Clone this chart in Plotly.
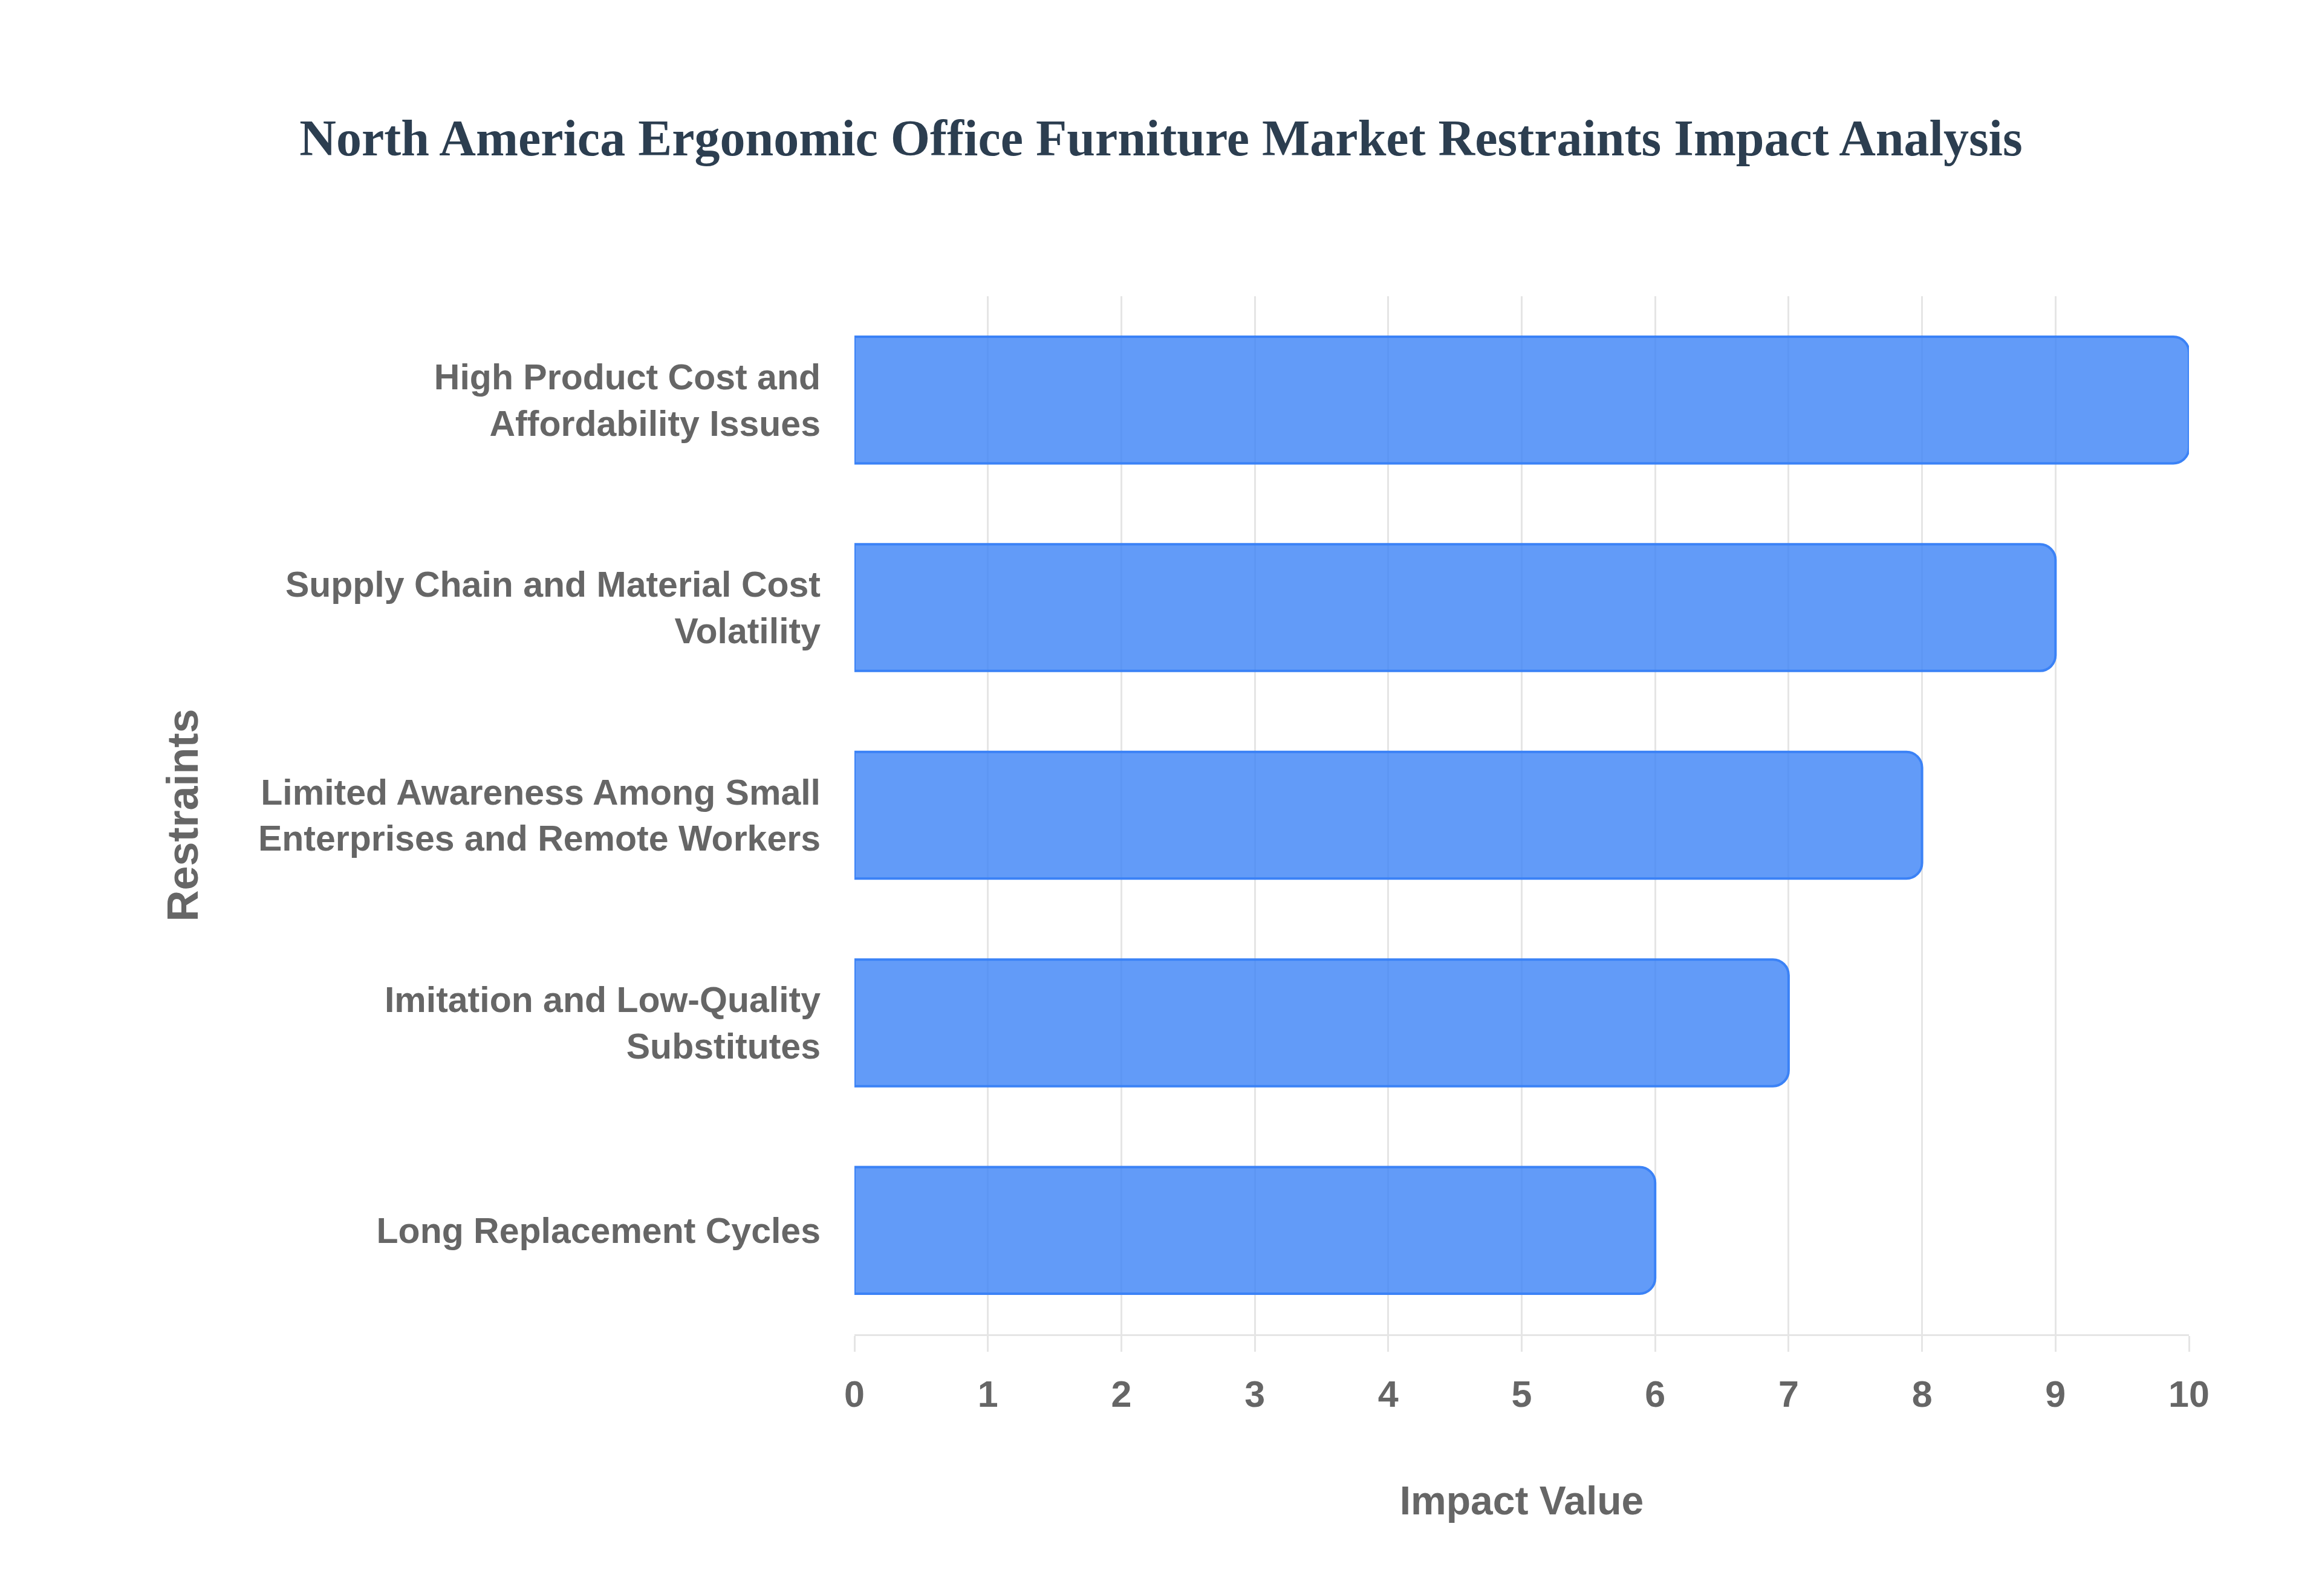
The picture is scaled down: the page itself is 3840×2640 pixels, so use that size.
import plotly.graph_objects as go

restraints = ['High Product Cost and<br>Affordability Issues',
              'Supply Chain and Material Cost<br>Volatility',
              'Limited Awareness Among Small<br>Enterprises and Remote Workers',
              'Imitation and Low-Quality<br>Substitutes',
              'Long Replacement Cycles']
impact = [10, 9, 8, 7, 6]
x_ticks = [0, 1, 2, 3, 4, 5, 6, 7, 8, 9, 10]

grid_col = 'rgba(0,0,0,0.1)'
label_col = '#666666'

fig = go.Figure(go.Bar(
    x=impact, y=restraints, orientation='h',
    marker=dict(color='rgba(59,130,246,0.8)',
                line=dict(color='rgb(59,130,246)', width=4)),
))

# page body adds an 8px margin, so the figure is a bit smaller than the window
fig.update_layout(
    width=3824, height=2624,
    margin=dict(l=1405, r=212, t=482, b=425, autoexpand=False),
    paper_bgcolor='white', plot_bgcolor='white',
    showlegend=False,
    bargap=0.39,
    barcornerradius=26,
    title=dict(text='North America Ergonomic Office Furniture Market Restraints Impact Analysis',
               x=0.5, xanchor='center', y=1 - 220 / 2624, yanchor='middle',
               font=dict(family='Times New Roman, Liberation Serif, serif', size=84,
                         color='#2c3e50', weight='bold')),
    font=dict(family='Arial, Liberation Sans, sans-serif', color=label_col),
)

fig.update_xaxes(
    range=[0, 10], tickvals=x_ticks,
    showgrid=True, gridcolor=grid_col, gridwidth=3,
    zeroline=False,
    showline=True, linecolor=grid_col, linewidth=3,
    ticks='outside', ticklen=26, tickwidth=3, tickcolor=grid_col,
    ticklabelstandoff=18,
    tickfont=dict(size=61, color=label_col, weight='bold'),
    title=dict(text='Impact Value', standoff=120,
               font=dict(size=66, color=label_col, weight='bold')),
)

fig.update_yaxes(
    autorange='reversed',
    showgrid=False, zeroline=False, showline=False,
    ticks='', ticklabelstandoff=55,
    tickfont=dict(size=59, color=label_col, weight='bold'),
    title=dict(text='Restraints', standoff=75,
               font=dict(size=72, color=label_col, weight='bold')),
)

fig.write_html("out.html")
